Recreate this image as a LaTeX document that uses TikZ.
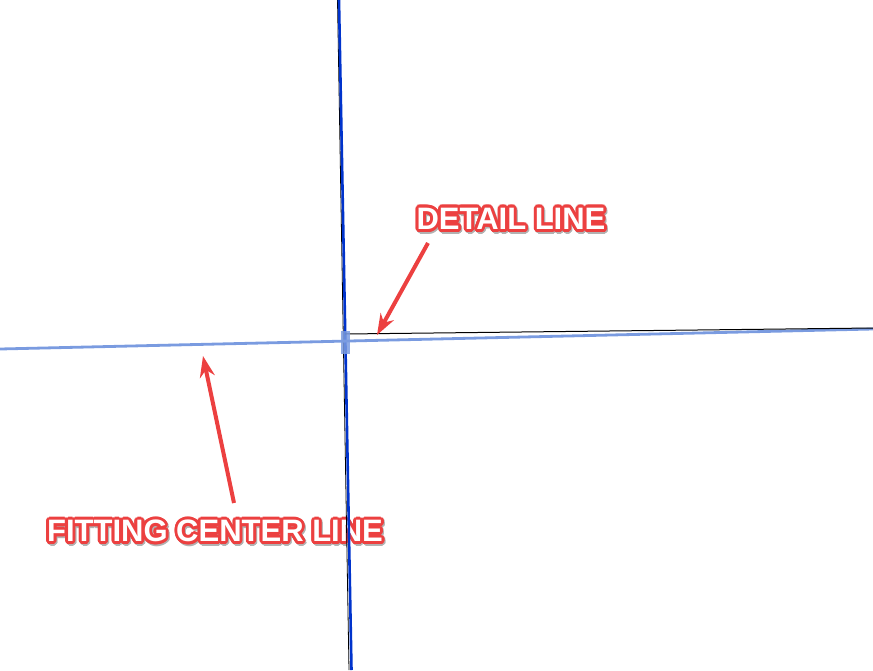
\documentclass[tikz,border=0pt]{standalone}
\usepackage{fontspec}
\setmainfont{Liberation Sans}
\usetikzlibrary{arrows.meta}
\definecolor{gridblue}{RGB}{0,51,204}
\definecolor{fitblue}{RGB}{122,155,224}
\definecolor{callred}{RGB}{236,64,64}

% outlined callout text: name, position, text
\newcommand{\calloutlabel}[3]{%
  \foreach \ang in {0,30,...,330}{
    \node[callout,text=black!30,shift={(\ang:2.8)},xshift=1.2pt,yshift=-1.6pt] at (#2) {#3};}
  \foreach \ang in {0,22.5,...,337.5}{
    \node[callout,text=callred,shift={(\ang:2.9)}] at (#2) {#3};}
  \node[callout,text=white] (#1) at (#2) {#3};
}

\begin{document}
\begin{tikzpicture}[x=1pt,y=-1pt]
    \tikzstyle{callout} = [inner sep=0pt, font=\fontsize{31}{31}\selectfont\bfseries]
    \tikzstyle{pointer} = [-{Stealth[length=21pt,width=15pt]}, callred, line width=4pt]
    \useasboundingbox (0,0) rectangle (873,670);

    % labels
    \calloutlabel{detailLabel}{511,219}{DETAIL LINE}
    \calloutlabel{fittingLabel}{215,531}{FITTING CENTER LINE}

    % lines
    \coordinate (fitWest) at (0,349);
    \coordinate (fitEast) at (873,329);
    \coordinate (detailStart) at (345,334);
    \coordinate (detailEnd) at (873,328);
    \draw[black,line width=0.8pt] (337.5,0) -- (349,670);
    \draw[gridblue,line width=2.6pt] (339,0) -- (351.5,670);
    \draw[fitblue,line width=2.8pt] (fitWest) -- (fitEast);
    \draw[black,line width=1pt] (detailStart) -- (detailEnd);
    \fill[fitblue,opacity=0.85] (341,331) rectangle (350,354);

    % Connections
    \coordinate (detailTail) at (428,243);
    \coordinate (detailTip) at (377,335);
    \coordinate (fittingTail) at (234,503);
    \coordinate (fittingTip) at (203,356);
    \draw[pointer] (detailTail) -- (detailTip);
    \draw[pointer] (fittingTail) -- (fittingTip);

  \end{tikzpicture}
\end{document}
